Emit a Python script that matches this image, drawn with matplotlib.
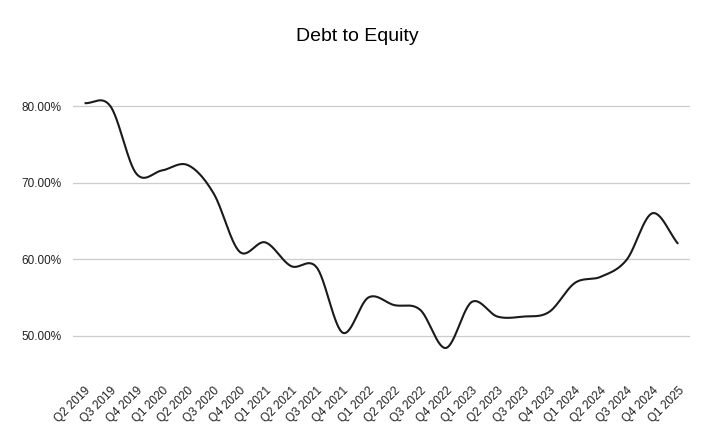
import numpy as np
import matplotlib.pyplot as plt
from matplotlib.ticker import FuncFormatter

quarters = [
    "Q2 2019", "Q3 2019", "Q4 2019", "Q1 2020", "Q2 2020", "Q3 2020",
    "Q4 2020", "Q1 2021", "Q2 2021", "Q3 2021", "Q4 2021", "Q1 2022",
    "Q2 2022", "Q3 2022", "Q4 2022", "Q1 2023", "Q2 2023", "Q3 2023",
    "Q4 2023", "Q1 2024", "Q2 2024", "Q3 2024", "Q4 2024", "Q1 2025",
]
debt_to_equity = [
    80.4, 80.0, 71.2, 71.6, 72.3, 68.6,
    61.0, 62.2, 59.1, 58.9, 50.4, 55.0,
    54.0, 53.4, 48.4, 54.4, 52.5, 52.5,
    53.1, 56.9, 57.7, 59.9, 66.0, 62.0,
]
y_ticks = [50, 60, 70, 80]


def catmull_rom(y, steps=30):
    # smooth curve through each point, like the spreadsheet's smooth line
    y = np.asarray(y, dtype=float)
    p = np.concatenate([[2 * y[0] - y[1]], y, [2 * y[-1] - y[-2]]])
    xs, ys = [], []
    t = np.linspace(0, 1, steps, endpoint=False)
    for i in range(len(y) - 1):
        p0, p1, p2, p3 = p[i], p[i + 1], p[i + 2], p[i + 3]
        seg = 0.5 * (2 * p1 + (-p0 + p2) * t
                     + (2 * p0 - 5 * p1 + 4 * p2 - p3) * t ** 2
                     + (-p0 + 3 * p1 - 3 * p2 + p3) * t ** 3)
        xs.append(i + t)
        ys.append(seg)
    xs.append([len(y) - 1])
    ys.append([y[-1]])
    return np.concatenate(xs), np.concatenate(ys)


plt.rcParams["font.family"] = ["Liberation Sans", "DejaVu Sans"]

fig = plt.figure(figsize=(7.14, 4.41), dpi=100)
ax = fig.add_axes([0.1022, 0.152, 0.8638, 0.694])

x = np.arange(len(quarters))
sx, sy = catmull_rom(debt_to_equity)
ax.plot(sx, sy, color="#1a1a1a", linewidth=1.5, solid_capstyle="butt")

ax.set_xlim(-0.45, len(quarters) - 0.55)
ax.set_ylim(45, 85)
ax.set_yticks(y_ticks)
ax.yaxis.set_major_formatter(FuncFormatter(lambda v, _: f"{v:.2f}%"))
ax.set_xticks(x)
ax.set_xticklabels(quarters, rotation=45, ha="right", va="top",
                   rotation_mode="anchor", fontsize=8.5, color="#222222")
ax.tick_params(axis="y", labelsize=8.5, labelcolor="#222222", length=0, pad=8)
ax.tick_params(axis="x", length=0, pad=8)

ax.grid(axis="y", color="#cccccc", linewidth=0.9)
ax.set_axisbelow(True)
for s in ax.spines.values():
    s.set_visible(False)

fig.suptitle("Debt to Equity", y=0.937, fontsize=14, color="#000000")

fig.savefig("out.png", dpi=100)
